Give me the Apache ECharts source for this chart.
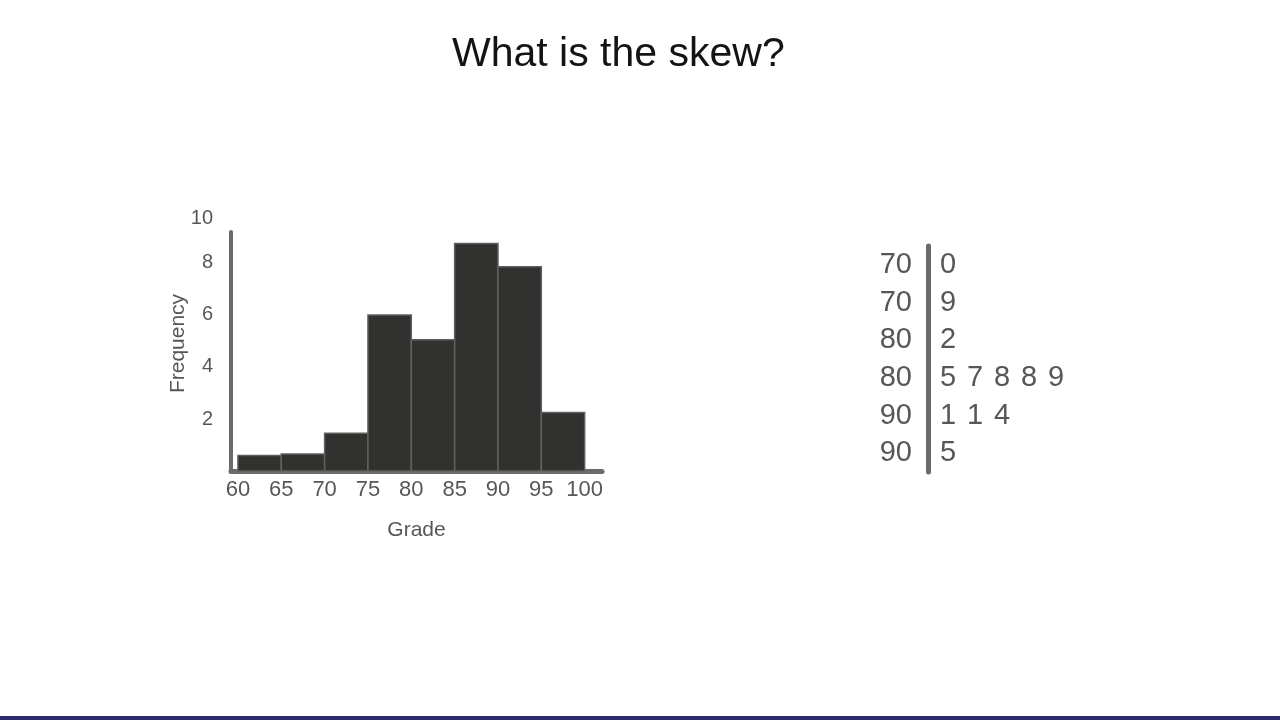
<!DOCTYPE html>
<html>
<head>
<meta charset="utf-8">
<script src="https://cdn.jsdelivr.net/npm/echarts@6/dist/echarts.min.js"></script>
<style>
html,body{margin:0;padding:0;background:#fff;}
#chart{width:1280px;height:720px;}
#bar{position:absolute;left:0;top:716px;width:1280px;height:4px;background:#2b2b6e;}
</style>
</head>
<body>
<div id="chart"></div>
<div id="bar"></div>
<script>
// Histogram data
const binStarts = [60, 65, 70, 75, 80, 85, 90, 95];
const binEnds   = [65, 70, 75, 80, 85, 90, 95, 100];
const frequency = [0.6, 0.65, 1.45, 6.0, 5.05, 8.75, 7.85, 2.25];
const xTickLabels = [60, 65, 70, 75, 80, 85, 90, 95, 100];

// Stem-and-leaf data
const stems = ['70', '70', '80', '80', '90', '90'];
const leaves = [['0'], ['9'], ['2'], ['5', '7', '8', '8', '9'], ['1', '1', '4'], ['5']];

const histData = binStarts.map((s, i) => [s, binEnds[i], frequency[i]]);
const leafData = [];
leaves.forEach((row, r) => row.forEach((lf, i) => leafData.push([i, r, lf])));

const gray = '#575757';
const font = 'Liberation Sans, Arial, sans-serif';
const chart = echarts.init(document.getElementById('chart'));
chart.setOption({
  backgroundColor: '#ffffff',
  animation: false,
  title: {
    text: 'What is the skew?',
    left: 452, top: 34, padding: 0,
    textStyle: { fontFamily: font, fontSize: 41, fontWeight: 'normal', color: '#141414' }
  },
  grid: [
    { left: 231, top: 232, width: 371, height: 239 },
    { left: 928, top: 246, width: 155, height: 226 }
  ],
  xAxis: [
    {
      gridIndex: 0, type: 'value', min: 59.2, max: 102,
      axisLine: { show: true, lineStyle: { color: '#6b6b6b', width: 5 } },
      axisTick: { show: false },
      splitLine: { show: false },
      axisLabel: {
        customValues: xTickLabels, margin: 8,
        fontFamily: font, fontSize: 22, color: gray
      },
      name: 'Grade', nameLocation: 'middle', nameGap: 59,
      nameTextStyle: { fontFamily: font, fontSize: 21, color: gray, verticalAlign: 'middle' }
    },
    { gridIndex: 1, type: 'value', min: -0.74, max: 5, show: false }
  ],
  yAxis: [
    {
      gridIndex: 0, type: 'value', min: 0, max: 9.19, interval: 2,
      axisLine: { show: true, lineStyle: { color: '#6b6b6b', width: 4 } },
      axisTick: { show: false },
      splitLine: { show: false },
      axisLabel: {
        showMinLabel: false, showMaxLabel: false, margin: 18,
        padding: [16, 0, 0, 0], verticalAlign: 'middle',
        fontFamily: font, fontSize: 20, color: gray
      },
      name: '10', nameLocation: 'end', nameGap: 14,
      nameTextStyle: { fontFamily: font, fontSize: 20, color: gray, align: 'right', verticalAlign: 'middle', padding: [0, 18, 0, 0] }
    },
    {
      gridIndex: 0, type: 'value', min: 0, max: 1, position: 'left',
      axisLine: { show: false }, axisTick: { show: false }, axisLabel: { show: false }, splitLine: { show: false },
      name: 'Frequency', nameLocation: 'middle', nameGap: 53,
      nameTextStyle: { fontFamily: font, fontSize: 21, color: gray, verticalAlign: 'middle', padding: [0, 0, 0, 16] }
    },
    {
      gridIndex: 1, type: 'category', data: stems, inverse: true,
      axisLine: { show: true, onZero: false, lineStyle: { color: '#6b6b6b', width: 5 } },
      axisTick: { show: false },
      splitLine: { show: false },
      axisLabel: { interval: 0, margin: 16, fontFamily: font, fontSize: 29, color: gray }
    }
  ],
  series: [
    {
      type: 'custom', xAxisIndex: 0, yAxisIndex: 0,
      data: histData,
      encode: { x: [0, 1], y: 2 },
      renderItem: function (params, api) {
        const p0 = api.coord([api.value(0), api.value(2)]);
        const p1 = api.coord([api.value(1), 0]);
        return {
          type: 'rect',
          shape: { x: p0[0], y: p0[1], width: p1[0] - p0[0], height: p1[1] - p0[1] },
          style: { fill: '#313230', stroke: '#5e615d', lineWidth: 1.5 }
        };
      }
    },
    {
      type: 'scatter', xAxisIndex: 1, yAxisIndex: 2,
      data: leafData,
      encode: { x: 0, y: 1 },
      symbolSize: 1,
      itemStyle: { color: 'rgba(0,0,0,0)', opacity: 1 },
      label: {
        show: true, position: 'inside', opacity: 1,
        formatter: p => p.value[2],
        fontFamily: font, fontSize: 29, color: gray
      }
    }
  ]
});
</script>
</body>
</html>
